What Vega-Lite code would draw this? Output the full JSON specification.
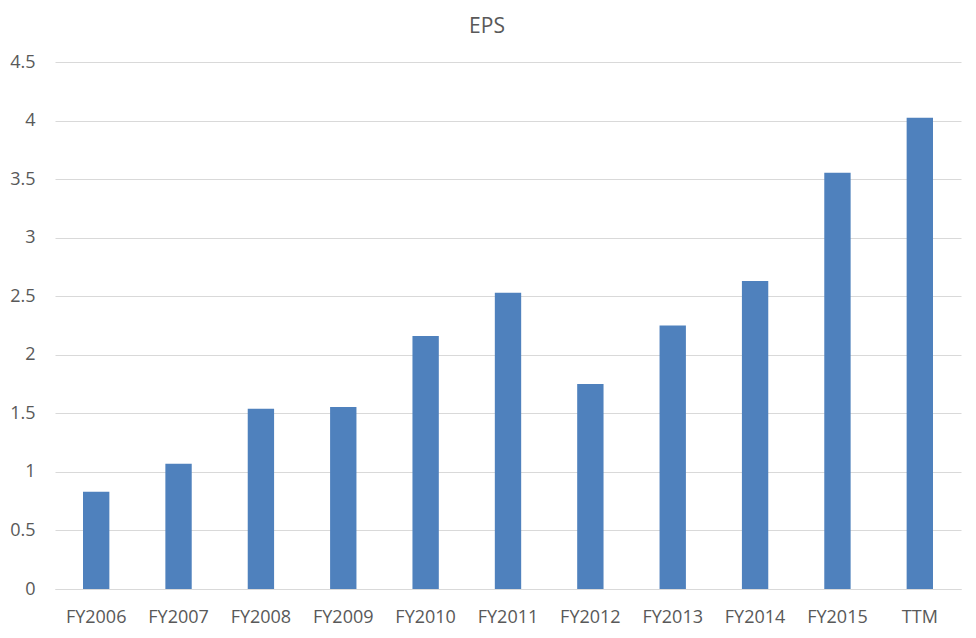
{
  "$schema": "https://vega.github.io/schema/vega-lite/v6.json",
  "autosize": {"type": "none"},
  "padding": {"left": 55, "top": 62, "right": 15, "bottom": 49},
  "width": 906,
  "height": 527,
  "background": "white",
  "title": {
    "text": "EPS",
    "fontSize": 21,
    "font": "Open Sans",
    "fontWeight": "normal",
    "color": "#595959",
    "anchor": "middle",
    "dx": -21,
    "offset": 16
  },
  "config": {
    "view": {"stroke": null},
    "font": "Open Sans",
    "axis": {
      "labelColor": "#595959",
      "labelFontSize": 18,
      "ticks": false,
      "title": null,
      "gridColor": "#d9d9d9",
      "domainColor": "#d9d9d9"
    }
  },
  "data": {
    "values": [
      {"period": "FY2006", "eps": 0.83},
      {"period": "FY2007", "eps": 1.07},
      {"period": "FY2008", "eps": 1.54},
      {"period": "FY2009", "eps": 1.555},
      {"period": "FY2010", "eps": 2.16},
      {"period": "FY2011", "eps": 2.53},
      {"period": "FY2012", "eps": 1.75},
      {"period": "FY2013", "eps": 2.25},
      {"period": "FY2014", "eps": 2.63},
      {"period": "FY2015", "eps": 3.555},
      {"period": "TTM", "eps": 4.025}
    ]
  },
  "mark": {"type": "bar", "color": "#4f81bd"},
  "encoding": {
    "x": {
      "field": "period", "type": "nominal", "sort": null,
      "scale": {"paddingInner": 0.68, "paddingOuter": 0.34},
      "axis": {"labelAngle": 0, "labelPadding": 19, "grid": false, "domain": true}
    },
    "y": {
      "field": "eps", "type": "quantitative",
      "scale": {"domain": [0, 4.5], "nice": false},
      "axis": {"values": [0, 0.5, 1, 1.5, 2, 2.5, 3, 3.5, 4, 4.5], "format": "~g", "domain": false, "labelPadding": 20, "grid": true}
    }
  }
}
